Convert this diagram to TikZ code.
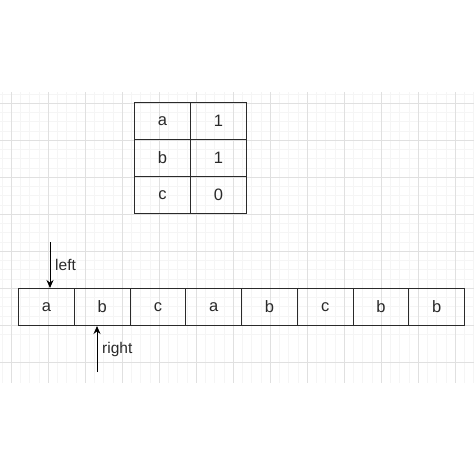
\documentclass[tikz,border=0pt]{standalone}
\usepackage{fontspec}
\setmainfont{Liberation Sans}
\usetikzlibrary{arrows.meta}
\definecolor{gmajor}{HTML}{E0E0E0}
\definecolor{gminor}{HTML}{F5F5F5}
\definecolor{ink}{HTML}{2A2A2A}
\tikzset{
  cellbox/.style={draw=ink, line width=1pt, minimum width=55.75pt, minimum height=37pt, inner sep=0pt, anchor=north west, font=\fontsize{16.5}{19}\selectfont, text=ink},
  tabbox/.style={draw=ink, line width=1pt, minimum width=56pt, minimum height=37pt, inner sep=0pt, anchor=north west, font=\fontsize{16.5}{19}\selectfont, text=ink},
  ptr/.style={draw=black, line width=1pt, -{Stealth[length=8pt,width=7pt]}},
  lbl/.style={font=\fontsize{15.5}{18}\selectfont, text=ink, inner sep=0pt, anchor=west}
}
\begin{document}
\begin{tikzpicture}[x=1pt,y=-1pt]
\useasboundingbox (0,0) rectangle (474,474);
\fill[white] (0,0) rectangle (474,474);
% grid
\begin{scope}
\clip (0,92) rectangle (474,383);
\foreach \i in {-2,...,52} {
  \draw[gminor, line width=0.5pt] (11+9.25*\i,92) -- (11+9.25*\i,383);
}
\foreach \i in {-8,...,33} {
  \draw[gminor, line width=0.5pt] (0,29+9.25*\i) -- (474,29+9.25*\i);
}
\foreach \i in {0,...,12} {
  \draw[gmajor, line width=0.8pt] (11+37*\i,92) -- (11+37*\i,383);
}
\foreach \i in {2,...,9} {
  \draw[gmajor, line width=0.8pt] (0,29+37*\i) -- (474,29+37*\i);
}
\end{scope}
% table
\node[tabbox] (ta) at (134,102) {a};
\node[tabbox] (tav) at (190,102) {1};
\node[tabbox] (tb) at (134,139) {b};
\node[tabbox] (tbv) at (190,139) {1};
\node[tabbox] (tc) at (134,176) {c};
\node[tabbox] (tcv) at (190,176) {0};
% array
\node[cellbox] (c1) at (18,288) {a};
\node[cellbox] (c2) at (73.75,288) {b};
\node[cellbox] (c3) at (129.5,288) {c};
\node[cellbox] (c4) at (185.25,288) {a};
\node[cellbox] (c5) at (241,288) {b};
\node[cellbox] (c6) at (296.75,288) {c};
\node[cellbox] (c7) at (352.5,288) {b};
\node[cellbox] (c8) at (408.25,288) {b};
% pointers
\coordinate (ls) at (50,242);
\coordinate (rs) at (97,372);
\draw[ptr] (ls) -- (ls |- c1.north);
\draw[ptr] (rs) -- (rs |- c2.south);
\node[lbl] (ltxt) at (55,265) {left};
\node[lbl] (rtxt) at (102,349) {right};
\end{tikzpicture}
\end{document}
